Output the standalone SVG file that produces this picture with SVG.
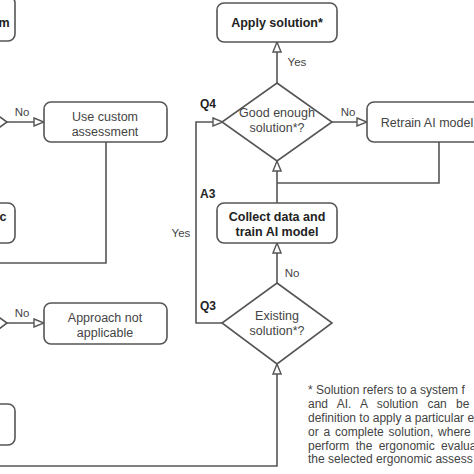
<svg xmlns="http://www.w3.org/2000/svg" width="474" height="474" viewBox="0 0 474 474">
<style>
.box{fill:#fff;stroke:#555;stroke-width:1.6}
.dia{fill:#fff;stroke:#555;stroke-width:1.6}
.ln{fill:none;stroke:#555;stroke-width:1.6}
.t{font-family:"Liberation Sans",Arial,sans-serif;font-size:12.5px;fill:#444;text-anchor:middle}
.b{font-family:"Liberation Sans",Arial,sans-serif;font-size:12.5px;font-weight:bold;fill:#222;text-anchor:middle}
.lab{font-family:"Liberation Sans",Arial,sans-serif;font-size:11.5px;fill:#444;text-anchor:middle}
.q{font-family:"Liberation Sans",Arial,sans-serif;font-size:12px;font-weight:bold;fill:#222}
.fn{font-family:"Liberation Sans",Arial,sans-serif;font-size:12px;fill:#444}
</style>
<defs>
<marker id="ah" markerUnits="userSpaceOnUse" markerWidth="12" markerHeight="10" refX="11" refY="5" orient="auto">
<path d="M1,1 L11,5 L1,9 z" fill="#fff" stroke="#555" stroke-width="1.4"/>
</marker>
</defs>
<g id="connectors">
<line class="ln" x1="277" y1="83" x2="277" y2="42" marker-end="url(#ah)"/>
<line class="ln" x1="332" y1="122" x2="367" y2="122" marker-end="url(#ah)"/>
<polyline class="ln" points="439,142 439,183 277,183"/>
<line class="ln" x1="277" y1="203" x2="277" y2="161" marker-end="url(#ah)"/>
<line class="ln" x1="277" y1="283" x2="277" y2="243" marker-end="url(#ah)"/>
<polyline class="ln" points="222,323 196,323 196,122 223,122" marker-end="url(#ah)"/>
<polyline class="ln" points="0,466 277,466 277,364" marker-end="url(#ah)"/>
<line class="ln" x1="7" y1="122" x2="44" y2="122" marker-end="url(#ah)"/>
<polyline class="ln" points="106,142 106,263 0,263"/>
<line class="ln" x1="7" y1="323" x2="44" y2="323" marker-end="url(#ah)"/>
<text class="lab" x="297" y="66">Yes</text>
<text class="lab" x="348" y="116">No</text>
<text class="lab" x="292" y="277">No</text>
<text class="lab" x="181" y="237">Yes</text>
<text class="lab" x="22" y="116">No</text>
<text class="lab" x="22" y="317">No</text>
</g>
<g id="n-top-left">
<rect class="box" x="-40" y="-4" width="55" height="45" rx="7"/>
<text class="b" x="4" y="27">m</text>
</g>
<g id="n-apply">
<rect class="box" x="217" y="3" width="120" height="39" rx="7"/>
<text class="b" x="277" y="27">Apply solution*</text>
</g>
<g id="n-q4">
<polygon class="dia" points="277,83 332,122 277,161 222,122"/>
<text class="t" x="277" y="117">Good enough</text>
<text class="t" x="277" y="132">solution*?</text>
<text class="q" x="200" y="108">Q4</text>
</g>
<g id="n-retrain">
<rect class="box" x="367" y="102" width="120" height="40" rx="7"/>
<text class="t" x="427" y="127">Retrain AI model</text>
</g>
<g id="n-a3">
<rect class="box" x="217" y="203" width="120" height="40" rx="7"/>
<text class="b" x="277" y="221">Collect data and</text>
<text class="b" x="277" y="236">train AI model</text>
<text class="q" x="200" y="198">A3</text>
</g>
<g id="n-q3">
<polygon class="dia" points="277,283 332,323 277,364 222,323"/>
<text class="t" x="277" y="320">Existing</text>
<text class="t" x="277" y="335">solution*?</text>
<text class="q" x="200" y="310">Q3</text>
</g>
<g id="n-left-dia1">
<polygon class="dia" points="-48,83 7,122 -48,161 -103,122"/>
</g>
<g id="n-custom">
<rect class="box" x="44" y="102" width="123" height="40" rx="7"/>
<text class="t" x="105" y="121">Use custom</text>
<text class="t" x="105" y="136">assessment</text>
</g>
<g id="n-left-c">
<rect class="box" x="-60" y="203" width="75" height="40" rx="7"/>
<text class="b" x="3" y="221">c</text>
</g>
<g id="n-left-dia2">
<polygon class="dia" points="-48,283 7,323 -48,364 -103,323"/>
</g>
<g id="n-approach">
<rect class="box" x="44" y="303" width="123" height="41" rx="7"/>
<text class="t" x="105" y="322">Approach not</text>
<text class="t" x="105" y="337">applicable</text>
</g>
<g id="n-left-bottom">
<rect class="box" x="-60" y="404" width="75" height="41" rx="7"/>
</g>
<g id="footnote">
<text class="fn" x="308" y="394">* Solution refers to a system f</text>
<text class="fn" x="308" y="408" word-spacing="6">and AI. A solution can be</text>
<text class="fn" x="308" y="422">definition to apply a particular e</text>
<text class="fn" x="308" y="436" word-spacing="1.5">or a complete solution, where</text>
<text class="fn" x="308" y="450" word-spacing="3">perform the ergonomic evalua</text>
<text class="fn" x="308" y="463">the selected ergonomic assess</text>
</g>
</svg>
